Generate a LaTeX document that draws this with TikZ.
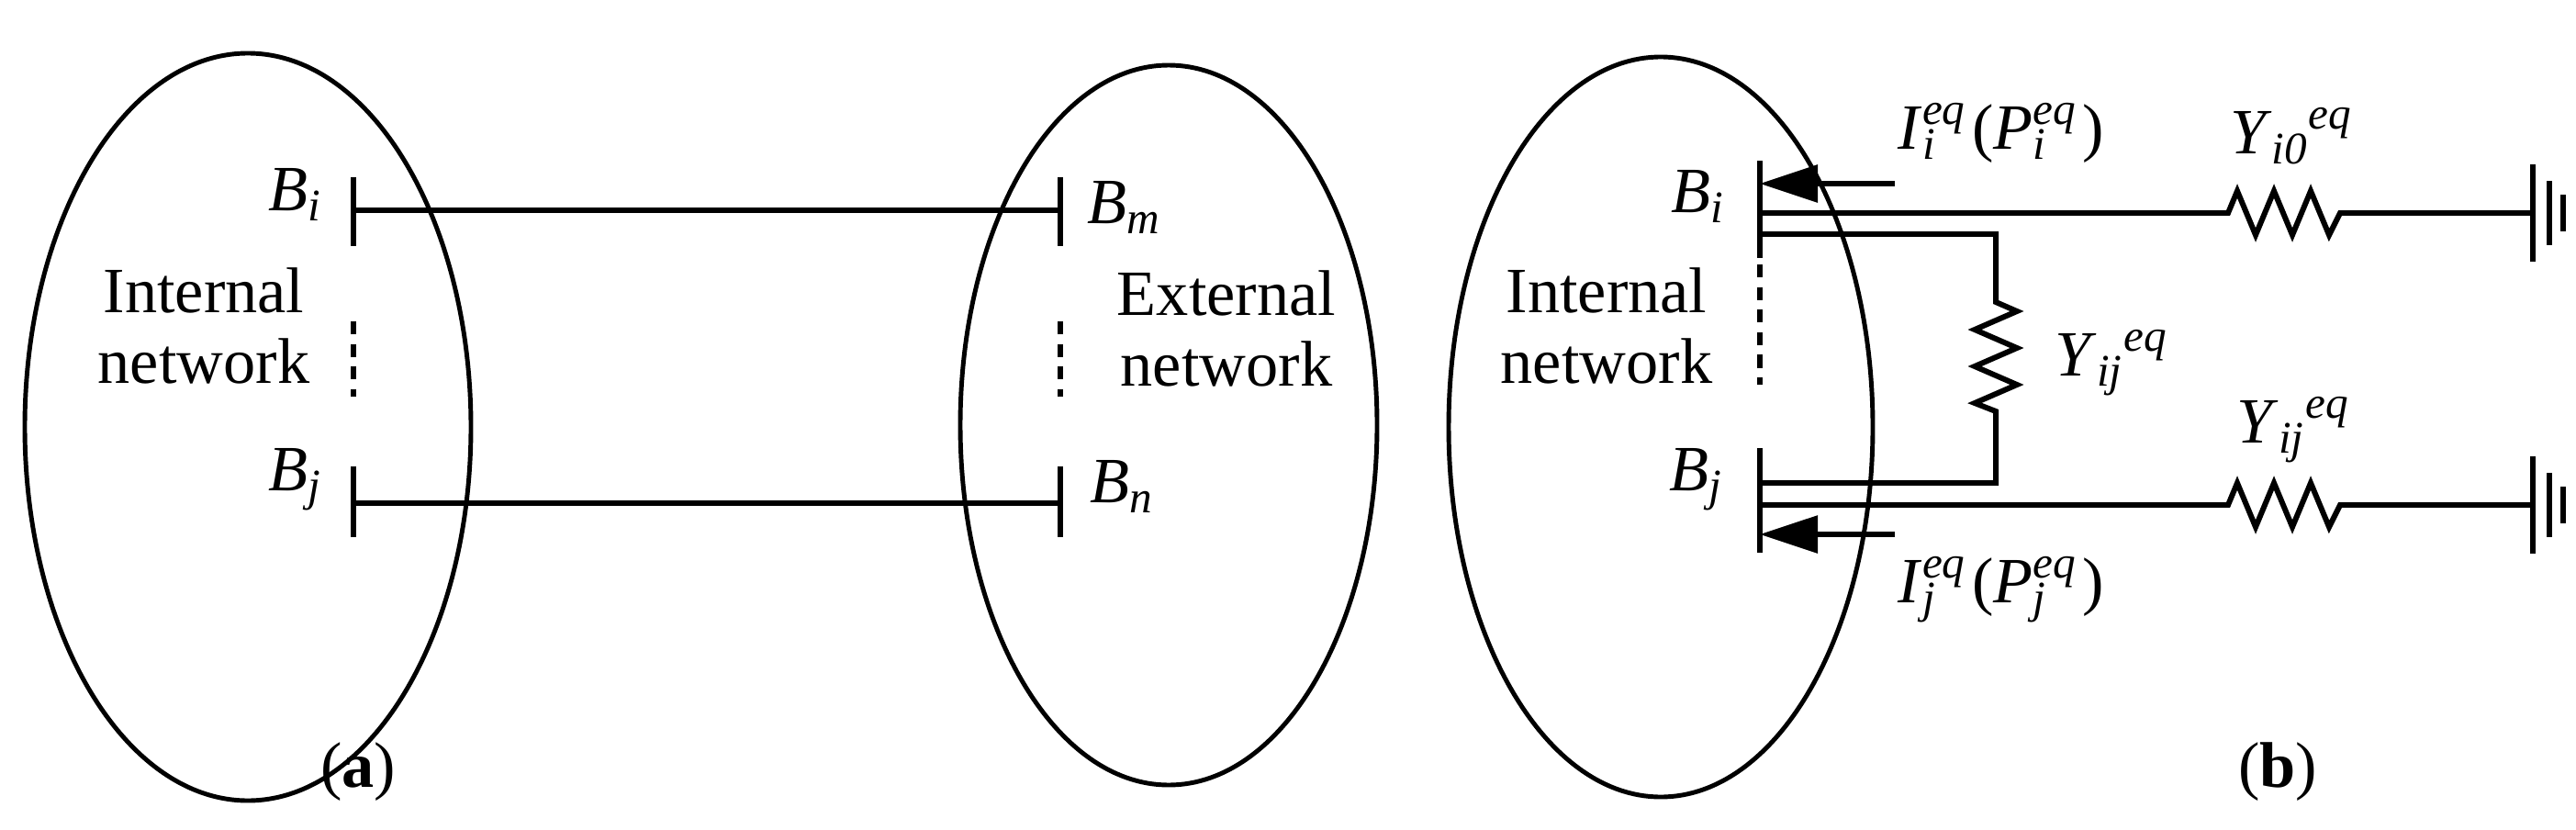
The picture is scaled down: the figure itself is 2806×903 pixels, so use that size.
\documentclass[tikz,border=0pt]{standalone}
\usepackage{fontspec}
\setmainfont{Liberation Serif}
\usetikzlibrary{arrows.meta}
\newcommand{\vb}[2]{\textit{#1}\textsubscript{\textit{#2}}}
\newcommand{\qe}[2]{\textit{#1}\rlap{\textsuperscript{\textit{eq}}}\textsubscript{\textit{#2}}\hspace{0.55em}}
\begin{document}
\begin{tikzpicture}[x=0.01cm,y=-0.01cm,font=\fontsize{20}{22}\selectfont,
  wire/.style={line width=1.7pt},
  bus/.style={line width=1.8pt},
  net/.style={line width=1.4pt},
  dots/.style={line width=1.8pt,dash pattern=on 4pt off 3pt},
  lbl/.style={inner sep=0pt}]
\useasboundingbox (0,0) rectangle (2806,903);
% (a)
\draw[net] (270,465) ellipse (243 and 407);
\draw[net] (1273,463) ellipse (227 and 392);
\draw[bus] (385,193) -- (385,268) (1155,193) -- (1155,268);
\draw[bus] (385,508) -- (385,585) (1155,508) -- (1155,585);
\coordinate (bi) at (385,229); \coordinate (bm) at (1155,229);
\coordinate (bj) at (385,548); \coordinate (bn) at (1155,548);
\draw[wire] (bi) -- (bm) (bj) -- (bn);
\draw[dots] (385,350) -- (385,432) (1155,350) -- (1155,432);
\node[lbl] (Bi) at (322,212) {\vb{B}{i}};
\node[lbl] (Bj) at (322,522) {\vb{B}{j}};
\node[lbl] (Bm) at (1225,226) {\vb{B}{m}};
\node[lbl] (Bn) at (1222,530) {\vb{B}{n}};
\node[align=center,lbl] (int) at (222,355) {Internal\\network};
\node[align=center,lbl] (ext) at (1336,358) {External\\network};
\node (a) at (390,841) {(\textbf{a})};
% (b)
\draw[net] (1809,465) ellipse (231 and 403);
\draw[bus] (1917,175) -- (1917,281) (1917,488) -- (1917,602);
\draw[dots] (1917,288) -- (1917,419);
\node[lbl] (Bi2) at (1850,214) {\vb{B}{i}};
\node[lbl] (Bj2) at (1848,522) {\vb{B}{j}};
\node[align=center,lbl] (int2) at (1750,355) {Internal\\network};
\coordinate (ai) at (2064,200); \coordinate (ati) at (1917,200);
\coordinate (aj) at (2064,582); \coordinate (atj) at (1917,582);
\draw[wire,-{Triangle[length=0.63cm,width=0.4cm]}] (ai) -- (ati);
\draw[wire,-{Triangle[length=0.63cm,width=0.4cm]}] (aj) -- (atj);
% branch to ground, bus i
\draw[wire] (1917,232) -- (2427,232) -- ++(10,-24) -- ++(20,48) -- ++(20,-48)
  -- ++(20,48) -- ++(20,-48) -- ++(20,48) -- ++(12,-24) -- (2759,232);
\draw[wire] (1917,550) -- (2427,550) -- ++(10,-24) -- ++(20,48) -- ++(20,-48)
  -- ++(20,48) -- ++(20,-48) -- ++(20,48) -- ++(12,-24) -- (2759,550);
% branch between buses
\draw[wire] (1917,255) -- (2174,255) -- (2174,329) -- ++(23,10) -- ++(-46,20)
  -- ++(46,20) -- ++(-46,20) -- ++(46,20) -- ++(-46,20) -- ++(23,9) -- (2174,526) -- (1917,526);
% grounds
\foreach \y in {232,550} {
  \draw[wire] (2759,\y-53) -- (2759,\y+53);
  \draw[wire] (2777,\y-35) -- (2777,\y+35);
  \draw[wire] (2792,\y-20) -- (2792,\y+20);
}
\node[lbl] (Ii) at (2180,145) {\qe{I}{i}(\qe{P}{i})};
\node[lbl] (Ij) at (2180,642) {\qe{I}{j}(\qe{P}{j})};
\node[lbl] (Yi0) at (2496,148) {\textit{Y}\textsubscript{\textit{i0}}\textsuperscript{\textit{eq}}};
\node[lbl] (Yij) at (2300,395) {\textit{Y}\textsubscript{\textit{ij}}\textsuperscript{\textit{eq}}};
\node[lbl] (Yij2) at (2498,468) {\textit{Y}\textsubscript{\textit{ij}}\textsuperscript{\textit{eq}}};
\node (b) at (2481,841) {(\textbf{b})};
\end{tikzpicture}
\end{document}
